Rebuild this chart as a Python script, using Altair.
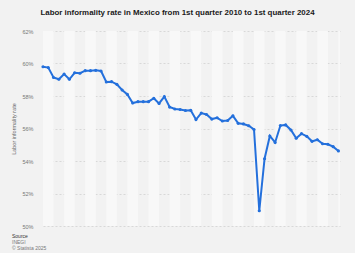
import altair as alt
import pandas as pd

years = list(range(2010, 2025))
quarters = [f"Q{q} {y}" for y in years for q in range(1, 5)][:57]
rates = [59.80, 59.75, 59.14, 59.03, 59.35, 59.03, 59.43, 59.40,
         59.56, 59.56, 59.58, 59.54, 58.86, 58.88, 58.72, 58.37,
         58.10, 57.57, 57.65, 57.65, 57.65, 57.86, 57.54, 57.96,
         57.32, 57.20, 57.17, 57.11, 57.12, 56.55, 56.95, 56.86,
         56.58, 56.66, 56.46, 56.49, 56.78, 56.32, 56.28, 56.17,
         55.94, 50.94, 54.14, 55.54, 55.14, 56.18, 56.22, 55.91,
         55.40, 55.68, 55.52, 55.21, 55.31, 55.06, 55.03, 54.88,
         54.62]
y_ticks = [50, 52, 54, 56, 58, 60, 62]

df = pd.DataFrame({"idx": list(range(len(rates))), "quarter": quarters, "rate": rates})
band_starts = list(range(0, len(rates), 4))
bands = pd.DataFrame({"start": band_starts, "end": [s + 2 for s in band_starts]})

font = "Liberation Sans"
xscale = alt.Scale(domain=[0, 56.3], nice=False, zero=False)
yscale = alt.Scale(domain=[50, 62], nice=False, zero=False)

stripes = alt.Chart(bands).mark_rect(color="#f8f8f8", clip=True).encode(
    x=alt.X("start:Q", scale=xscale, axis=None),
    x2="end:Q",
    y=alt.value(0),
    y2=alt.value(195),
)

line = alt.Chart(df).mark_line(
    color="#2470dc", strokeWidth=2,
    point=alt.OverlayMarkDef(color="#2470dc", size=10, filled=True),
).encode(
    x=alt.X("idx:Q", scale=xscale, axis=None),
    y=alt.Y("rate:Q", scale=yscale,
            axis=alt.Axis(values=y_ticks, format=".0f", labelExpr="datum.value + '%'",
                          title="Labor informality rate", titleFontSize=5.5,
                          titleFont=font, titleFontWeight="normal", titleColor="#666",
                          titlePadding=5, labelFont=font, labelFontSize=5.5,
                          labelColor="#777", labelPadding=10, domain=False, ticks=False,
                          grid=True, gridColor="#d0d0d0", gridDash=[2, 2], gridWidth=0.8)),
    tooltip=["quarter", "rate"],
)

title = alt.Chart(pd.DataFrame({"t": ["Labor informality rate in Mexico from 1st quarter 2010 to 1st quarter 2024"]})).mark_text(
    font=font, fontSize=7.9, fontWeight="bold", color="#1a1a1a", align="center", baseline="middle"
).encode(text="t:N", x=alt.value(134.5), y=alt.value(-18))

footer = alt.Chart(pd.DataFrame({
    "t": ["Source", "INEGI", "© Statista 2025"],
    "yy": [205, 211, 217],
    "c": ["#333", "#777", "#777"],
})).mark_text(font=font, fontSize=5, align="left", baseline="middle").encode(
    text="t:N", x=alt.value(-31), y=alt.Y("yy:Q", scale=None), color=alt.Color("c:N", scale=None)
)

chart = alt.layer(stripes, line, title, footer).properties(
    width=297, height=195,
    padding={"left": 43, "top": 31, "right": 15, "bottom": 27},
    autosize=alt.AutoSizeParams(type="none"),
    background="#f2f2f2",
).configure_view(stroke=None, fill="#f2f2f2")

chart.save("out.html", embed_options={"renderer": "svg", "actions": False})
